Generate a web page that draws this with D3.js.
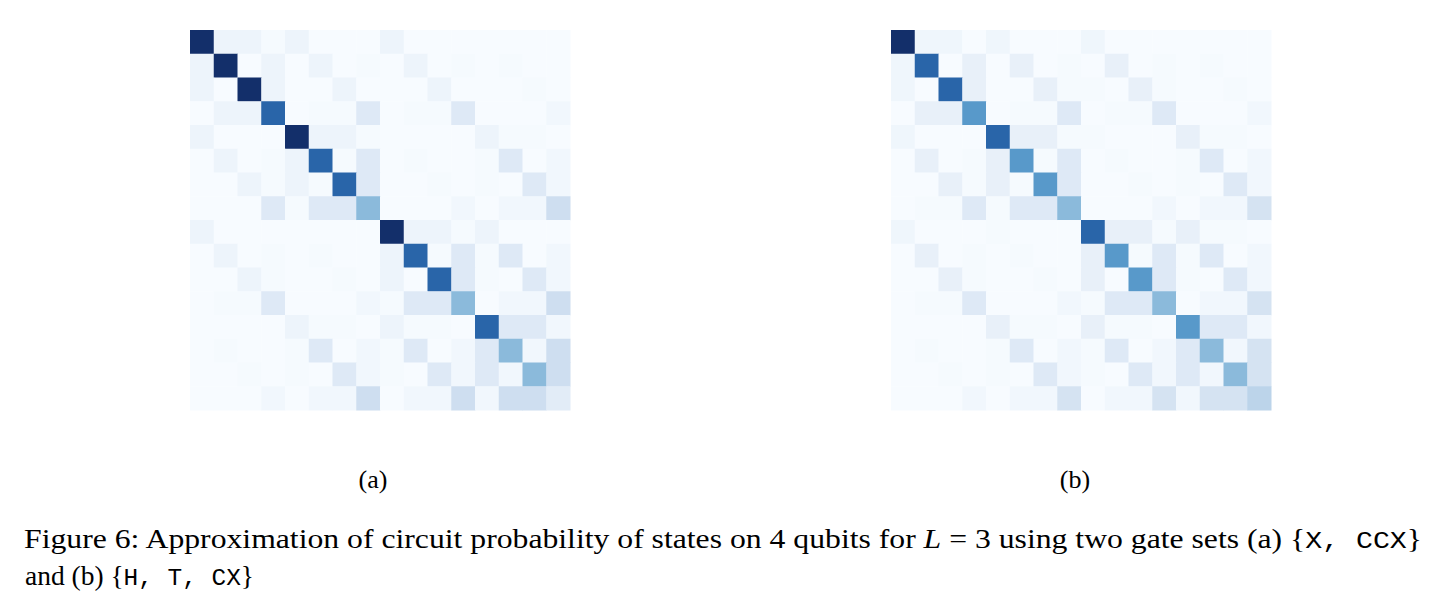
<!DOCTYPE html>
<html>
<head>
<meta charset="utf-8">
<script src="https://cdn.jsdelivr.net/npm/d3@7"></script>
<style>
  body { margin: 0; background: #fff; }
  svg { display: block; }
</style>
</head>
<body>
<svg width="1444" height="604"></svg>
<script>
// basis states 0..15 on 4 qubits
const states = d3.range(16);

// (a) gate set {X, CCX} (normalised)
const probA = [
  [1.00, 0.05, 0.05, 0.01, 0.05, 0, 0, 0, 0.05, 0, 0, 0, 0, 0, 0, 0],
  [0.05, 1.00, 0, 0.05, 0, 0.05, 0, 0.01, 0, 0.05, 0, 0.01, 0, 0.01, 0, 0],
  [0.05, 0, 1.00, 0.05, 0, 0, 0.05, 0, 0, 0, 0.05, 0, 0, 0, 0.01, 0],
  [0, 0.05, 0.05, 0.79, 0, 0.01, 0.01, 0.13, 0, 0.01, 0.01, 0.13, 0, 0, 0, 0.03],
  [0.05, 0, 0, 0, 1.00, 0.05, 0.05, 0.01, 0, 0, 0, 0, 0.05, 0.01, 0.01, 0],
  [0, 0.05, 0, 0.01, 0.05, 0.79, 0.01, 0.13, 0, 0.01, 0, 0, 0.01, 0.13, 0, 0.03],
  [0, 0, 0.05, 0.01, 0.05, 0.01, 0.79, 0.13, 0, 0, 0.01, 0, 0.01, 0, 0.13, 0.03],
  [0, 0, 0, 0.13, 0.01, 0.13, 0.13, 0.43, 0, 0, 0, 0.03, 0, 0.03, 0.03, 0.22],
  [0.05, 0, 0, 0, 0, 0, 0, 0, 1.00, 0.05, 0.05, 0.01, 0.05, 0, 0, 0],
  [0, 0.05, 0, 0.01, 0, 0.01, 0, 0, 0.05, 0.79, 0.01, 0.13, 0.01, 0.13, 0, 0.03],
  [0, 0, 0.05, 0.01, 0, 0, 0.01, 0, 0.05, 0, 0.79, 0.13, 0.01, 0, 0.13, 0.03],
  [0, 0.01, 0.01, 0.13, 0, 0, 0, 0.03, 0.01, 0.13, 0.13, 0.43, 0, 0.03, 0.03, 0.22],
  [0, 0, 0, 0, 0.05, 0.01, 0.01, 0, 0.05, 0.01, 0.01, 0, 0.79, 0.13, 0.13, 0.03],
  [0, 0.01, 0, 0, 0.01, 0.13, 0, 0.03, 0.01, 0.13, 0, 0.03, 0.13, 0.43, 0.03, 0.22],
  [0, 0, 0.01, 0, 0.01, 0, 0.13, 0.03, 0.01, 0, 0.13, 0.03, 0.13, 0.03, 0.43, 0.22],
  [0, 0, 0, 0.03, 0, 0.03, 0.03, 0.22, 0, 0.03, 0.03, 0.22, 0.03, 0.22, 0.22, 0.11],
];

// (b) gate set {H, T, CX}
const probB = [
  [1.00, 0.04, 0.04, 0, 0.04, 0, 0, 0, 0.04, 0, 0, 0, 0, 0, 0, 0],
  [0.04, 0.79, 0, 0.08, 0, 0.08, 0, 0.01, 0, 0.08, 0, 0.01, 0, 0.01, 0, 0],
  [0.04, 0, 0.79, 0.08, 0, 0, 0.08, 0.01, 0.01, 0, 0.08, 0.01, 0, 0, 0.01, 0],
  [0, 0.08, 0.08, 0.58, 0, 0.01, 0.01, 0.13, 0, 0.01, 0.01, 0.13, 0, 0, 0, 0.03],
  [0.04, 0, 0, 0, 0.79, 0.08, 0.08, 0.01, 0.01, 0, 0, 0, 0.08, 0.01, 0.01, 0],
  [0, 0.08, 0, 0.01, 0.08, 0.58, 0.01, 0.13, 0, 0.01, 0, 0, 0.01, 0.13, 0, 0.03],
  [0, 0, 0.08, 0.01, 0.08, 0.01, 0.58, 0.13, 0, 0, 0.01, 0, 0.01, 0, 0.13, 0.03],
  [0, 0.01, 0.01, 0.13, 0.01, 0.13, 0.13, 0.43, 0, 0, 0, 0.03, 0, 0.03, 0.03, 0.18],
  [0.04, 0, 0, 0, 0.01, 0, 0, 0, 0.79, 0.08, 0.08, 0.01, 0.08, 0.01, 0.01, 0],
  [0, 0.08, 0, 0.01, 0, 0.01, 0, 0, 0.08, 0.58, 0.01, 0.13, 0.01, 0.13, 0, 0.03],
  [0, 0, 0.08, 0.01, 0, 0, 0.01, 0, 0.08, 0, 0.58, 0.13, 0.01, 0, 0.13, 0.03],
  [0, 0.01, 0.01, 0.13, 0, 0, 0, 0.03, 0.01, 0.13, 0.13, 0.43, 0, 0.03, 0.03, 0.18],
  [0, 0, 0, 0, 0.08, 0.01, 0.01, 0, 0.08, 0.01, 0.01, 0, 0.58, 0.13, 0.13, 0.03],
  [0, 0.01, 0, 0, 0.01, 0.13, 0, 0.03, 0.01, 0.13, 0, 0.03, 0.13, 0.43, 0.03, 0.18],
  [0, 0, 0.01, 0, 0.01, 0, 0.13, 0.03, 0.01, 0, 0.13, 0.03, 0.13, 0.03, 0.43, 0.18],
  [0, 0, 0, 0.03, 0, 0.03, 0.03, 0.18, 0, 0.03, 0.03, 0.18, 0.03, 0.18, 0.18, 0.29],
];

const panelLabels = ["(a)", "(b)"];

// caption pieces: [text, style]
const captionLine1 = [
  ["Figure 6: Approximation of circuit probability of states on 4 qubits for ", "rm"],
  ["L", "it"],
  [" = 3 using two gate sets (a) {", "rm"],
  ["X, CCX", "tt"],
  ["}", "rm"],
];
const captionLine2 = [
  ["and (b) {", "rm"],
  ["H, T, CX", "tt"],
  ["}", "rm"],
];

// "Blues" stops, a bit muted like the reference screenshot
const bluesStops = ["#f7fbff", "#dfeaf6", "#c8daee", "#a1c7e0", "#70aad4",
                    "#4a8fc4", "#2f6fb1", "#1b5199", "#132f6a"];
const color = d3.scaleLinear()
  .domain(d3.range(9).map((i) => i / 8))
  .range(bluesStops)
  .clamp(true);

const svg = d3.select("svg");

const size = 380;
const x = d3.scaleBand().domain(states).range([0, size]);
const y = d3.scaleBand().domain(states).range([0, size]);

const panels = [
  { data: probA, left: 190, top: 30, labelX: 373 },
  { data: probB, left: 891, top: 30, labelX: 1075 },
];

panels.forEach((p, k) => {
  const g = svg.append("g").attr("transform", `translate(${p.left},${p.top})`);
  const cells = [];
  p.data.forEach((row, i) => row.forEach((v, j) => cells.push({ i, j, v })));

  g.selectAll("rect")
    .data(cells)
    .enter()
    .append("rect")
    .attr("x", (d) => x(d.j))
    .attr("y", (d) => y(d.i))
    .attr("width", x.bandwidth() + 0.5)
    .attr("height", y.bandwidth() + 0.5)
    .attr("fill", (d) => color(d.v));

  svg.append("text")
    .attr("x", p.labelX)
    .attr("y", 488)
    .attr("text-anchor", "middle")
    .attr("font-family", "Liberation Serif, serif")
    .attr("font-size", "26px")
    .text(panelLabels[k]);
});

const fonts = {
  rm: { family: "Liberation Serif, serif", style: "normal", size: "27px" },
  it: { family: "Liberation Serif, serif", style: "italic", size: "27px" },
  tt: { family: "Liberation Mono, monospace", style: "normal", size: "24px" },
};

function caption(parts, xPos, yPos, fitWidth) {
  const t = svg.append("text")
    .attr("x", xPos)
    .attr("y", yPos)
    .attr("fill", "#000")
    .style("white-space", "pre");
  parts.forEach(([txt, s]) => {
    t.append("tspan")
      .attr("font-family", fonts[s].family)
      .attr("font-style", fonts[s].style)
      .attr("font-size", fonts[s].size)
      .text(txt);
  });
  t.attr("textLength", fitWidth).attr("lengthAdjust", "spacingAndGlyphs");
  return t;
}

caption(captionLine1, 24, 548, 1398);
caption(captionLine2, 25, 585, 229);
</script>
</body>
</html>
